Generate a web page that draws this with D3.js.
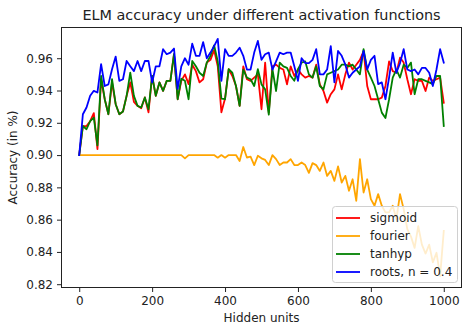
<!DOCTYPE html>
<html>
<head>
<meta charset="utf-8">
<script src="https://cdn.jsdelivr.net/npm/d3@7"></script>
<style>
  html, body { margin: 0; padding: 0; background: #fff; }
  svg text { font-family: "DejaVu Sans", sans-serif; fill: #222; }
</style>
</head>
<body>
<svg id="chart" width="474" height="333"></svg>
<script>
// Hidden units sampled every 10 from 0 to 1000
const hiddenUnits = d3.range(0, 1001, 10);

const sigmoid = [
  0.900, 0.918, 0.918, 0.921, 0.926, 0.9037, 0.947, 0.9346, 0.9253, 0.945,
  0.9315, 0.9253, 0.927, 0.9367, 0.945, 0.933, 0.9305, 0.929, 0.9357, 0.9265,
  0.949, 0.9367, 0.945, 0.9398, 0.946, 0.946, 0.9625, 0.9346, 0.946, 0.950,
  0.944, 0.956, 0.952, 0.945, 0.947, 0.9573, 0.959, 0.965, 0.955, 0.9265,
  0.935, 0.9532, 0.949, 0.9428, 0.9305, 0.955, 0.947, 0.946, 0.948, 0.950,
  0.9284, 0.9573, 0.9263, 0.955, 0.956, 0.954, 0.953, 0.9438, 0.955, 0.949,
  0.953, 0.950, 0.948, 0.949, 0.948, 0.956, 0.9438, 0.9397, 0.9325, 0.9377,
  0.9407, 0.950, 0.9407, 0.950, 0.9573, 0.953, 0.956, 0.959, 0.9645, 0.9428,
  0.9346, 0.9346, 0.9346, 0.9356, 0.9428, 0.958, 0.952, 0.951, 0.9604, 0.9573,
  0.947, 0.9377, 0.947, 0.946, 0.946, 0.9397, 0.948, 0.946, 0.947, 0.948,
  0.9325
];

const fourier = [
  0.900, 0.900, 0.900, 0.900, 0.900, 0.900, 0.900, 0.900, 0.900, 0.900,
  0.900, 0.900, 0.900, 0.900, 0.900, 0.900, 0.900, 0.900, 0.900, 0.900,
  0.900, 0.900, 0.900, 0.900, 0.900, 0.900, 0.900, 0.900, 0.900, 0.898,
  0.900, 0.900, 0.900, 0.900, 0.900, 0.900, 0.900, 0.900, 0.8984, 0.900,
  0.8984, 0.900, 0.900, 0.900, 0.8963, 0.905, 0.8985, 0.899, 0.8938, 0.8996,
  0.898, 0.897, 0.8938, 0.900, 0.8975, 0.8938, 0.8954, 0.8954, 0.8975, 0.8938,
  0.8938, 0.8954, 0.8938, 0.889, 0.895, 0.8938, 0.8902, 0.8954, 0.8871, 0.8902,
  0.884, 0.893, 0.883, 0.8871, 0.8779, 0.885, 0.8717, 0.8975, 0.8768, 0.885,
  0.8727, 0.8686, 0.8758, 0.8686, 0.8645, 0.8645, 0.8686, 0.8603, 0.8758, 0.8665,
  0.8541, 0.8495, 0.8425, 0.856, 0.8445, 0.839, 0.8445, 0.8335, 0.8395, 0.825,
  0.853
];

const tanhyp = [
  0.900, 0.918, 0.916, 0.921, 0.9232, 0.906, 0.949, 0.9346, 0.9253, 0.947,
  0.9315, 0.9253, 0.927, 0.9367, 0.9511, 0.9367, 0.9305, 0.9295, 0.9357, 0.9284,
  0.949, 0.9367, 0.945, 0.9398, 0.946, 0.946, 0.9625, 0.9346, 0.9473, 0.946,
  0.9346, 0.9583, 0.955, 0.951, 0.949, 0.9573, 0.9615, 0.968, 0.958, 0.935,
  0.9346, 0.9532, 0.951, 0.9428, 0.9305, 0.953, 0.948, 0.947, 0.9428, 0.9532,
  0.9438, 0.9407, 0.925, 0.9532, 0.9397, 0.9573, 0.955, 0.954, 0.949, 0.946,
  0.9532, 0.9573, 0.958, 0.950, 0.948, 0.955, 0.9428, 0.9407, 0.950, 0.951,
  0.952, 0.953, 0.956, 0.956, 0.955, 0.956, 0.953, 0.950, 0.9656, 0.953,
  0.948, 0.9428, 0.9346, 0.9263, 0.923, 0.9346, 0.948, 0.953, 0.948, 0.956,
  0.954, 0.9573, 0.9377, 0.947, 0.947, 0.946, 0.945, 0.944, 0.949, 0.949,
  0.918
];

const roots = [
  0.900, 0.9253, 0.9295, 0.9367, 0.9398, 0.9388, 0.9563, 0.9428, 0.9438, 0.9532,
  0.961, 0.946, 0.947, 0.9583, 0.955, 0.952, 0.9583, 0.952, 0.9583, 0.9583,
  0.945, 0.955, 0.955, 0.9656, 0.9625, 0.9635, 0.966, 0.941, 0.955, 0.960,
  0.956, 0.969, 0.9615, 0.9615, 0.970, 0.960, 0.9635, 0.9675, 0.972, 0.946,
  0.9656, 0.9615, 0.9615, 0.9635, 0.9665, 0.9615, 0.953, 0.953, 0.9635, 0.9707,
  0.959, 0.9625, 0.9635, 0.953, 0.958, 0.9635, 0.9625, 0.9635, 0.9635, 0.955,
  0.946, 0.960, 0.957, 0.957, 0.959, 0.9656, 0.950, 0.950, 0.953, 0.9675,
  0.945, 0.9645, 0.9615, 0.956, 0.948, 0.951, 0.953, 0.955, 0.9645, 0.953,
  0.959, 0.9615, 0.944, 0.945, 0.9346, 0.948, 0.9635, 0.951, 0.957, 0.9656,
  0.953, 0.952, 0.953, 0.950, 0.954, 0.954, 0.951, 0.9428, 0.953, 0.9656,
  0.9573
];

const seriesNames = ["sigmoid", "fourier", "tanhyp", "roots, n = 0.4"];
const seriesColors = ["red", "orange", "green", "blue"];
const seriesValues = [sigmoid, fourier, tanhyp, roots];

const xTicks = [0, 200, 400, 600, 800, 1000];
const yTicks = [0.82, 0.84, 0.86, 0.88, 0.90, 0.92, 0.94, 0.96];

const titleText = "ELM accuracy under different activation functions";
const xLabel = "Hidden units";
const yLabel = "Accuracy (in %)";

// Plot area
const plotLeft = 61, plotRight = 462, plotTop = 27, plotBottom = 288;

const svg = d3.select("#chart");

// Axis ranges with 5% padding on each side of the data extent
const xExt = d3.extent(hiddenUnits);
const xPad = (xExt[1] - xExt[0]) * 0.05;
const allVals = seriesValues.flat();
const yExt = d3.extent(allVals);
const yPad = (yExt[1] - yExt[0]) * 0.05;

const x = d3.scaleLinear().domain([xExt[0] - xPad, xExt[1] + xPad]).range([plotLeft, plotRight]);
const y = d3.scaleLinear().domain([yExt[0] - yPad, yExt[1] + yPad]).range([plotBottom, plotTop]);

const plot = svg.append("g");

const line = d3.line()
  .x((d, i) => x(hiddenUnits[i]))
  .y(d => y(d));

seriesValues.forEach((vals, k) => {
  plot.append("path")
    .datum(vals)
    .attr("fill", "none")
    .attr("stroke", seriesColors[k])
    .attr("stroke-width", 1.8)
    .attr("stroke-linejoin", "round")
    .attr("stroke-linecap", "square")
    .attr("d", line);
});

// Axes
const xAxis = d3.axisBottom(x).tickValues(xTicks).tickSize(4).tickPadding(4).tickFormat(d3.format("d"));
const yAxis = d3.axisLeft(y).tickValues(yTicks).tickSize(4).tickPadding(4).tickFormat(d3.format(".2f"));

const gx = svg.append("g").attr("transform", `translate(0,${plotBottom})`).call(xAxis);
const gy = svg.append("g").attr("transform", `translate(${plotLeft},0)`).call(yAxis);
[gx, gy].forEach(g => {
  g.select(".domain").remove();
  g.selectAll(".tick line").attr("stroke", "#222").attr("stroke-width", 1);
  g.selectAll(".tick text").attr("font-size", 12).attr("font-family", "DejaVu Sans").style("fill", "#222");
});

// Frame
svg.append("rect")
  .attr("x", plotLeft + 0.5).attr("y", plotTop + 0.5)
  .attr("width", plotRight - plotLeft - 1).attr("height", plotBottom - plotTop - 1)
  .attr("fill", "none").attr("stroke", "#222").attr("stroke-width", 1);

// Titles
svg.append("text")
  .attr("x", (plotLeft + plotRight) / 2).attr("y", 20)
  .attr("text-anchor", "middle").attr("font-size", 14.4)
  .text(titleText);

svg.append("text")
  .attr("x", (plotLeft + plotRight) / 2).attr("y", 322)
  .attr("text-anchor", "middle").attr("font-size", 12)
  .text(xLabel);

svg.append("text")
  .attr("transform", `translate(17,${(plotTop + plotBottom) / 2}) rotate(-90)`)
  .attr("text-anchor", "middle").attr("font-size", 12)
  .text(yLabel);

// Legend
const lgX = 332, lgY = 206, lgW = 125, lgH = 76;
const legend = svg.append("g");
legend.append("rect")
  .attr("x", lgX + 0.5).attr("y", lgY + 0.5)
  .attr("width", lgW).attr("height", lgH)
  .attr("rx", 3).attr("ry", 3)
  .attr("fill", "white").attr("fill-opacity", 0.8)
  .attr("stroke", "#d0d0d0").attr("stroke-width", 1);

seriesNames.forEach((name, k) => {
  const cy = lgY + 12 + k * 18;
  legend.append("line")
    .attr("x1", lgX + 4).attr("x2", lgX + 28)
    .attr("y1", cy).attr("y2", cy)
    .attr("stroke", seriesColors[k]).attr("stroke-width", 1.8);
  legend.append("text")
    .attr("x", lgX + 38).attr("y", cy + 4.3)
    .attr("font-size", 12)
    .text(name);
});
</script>
</body>
</html>
